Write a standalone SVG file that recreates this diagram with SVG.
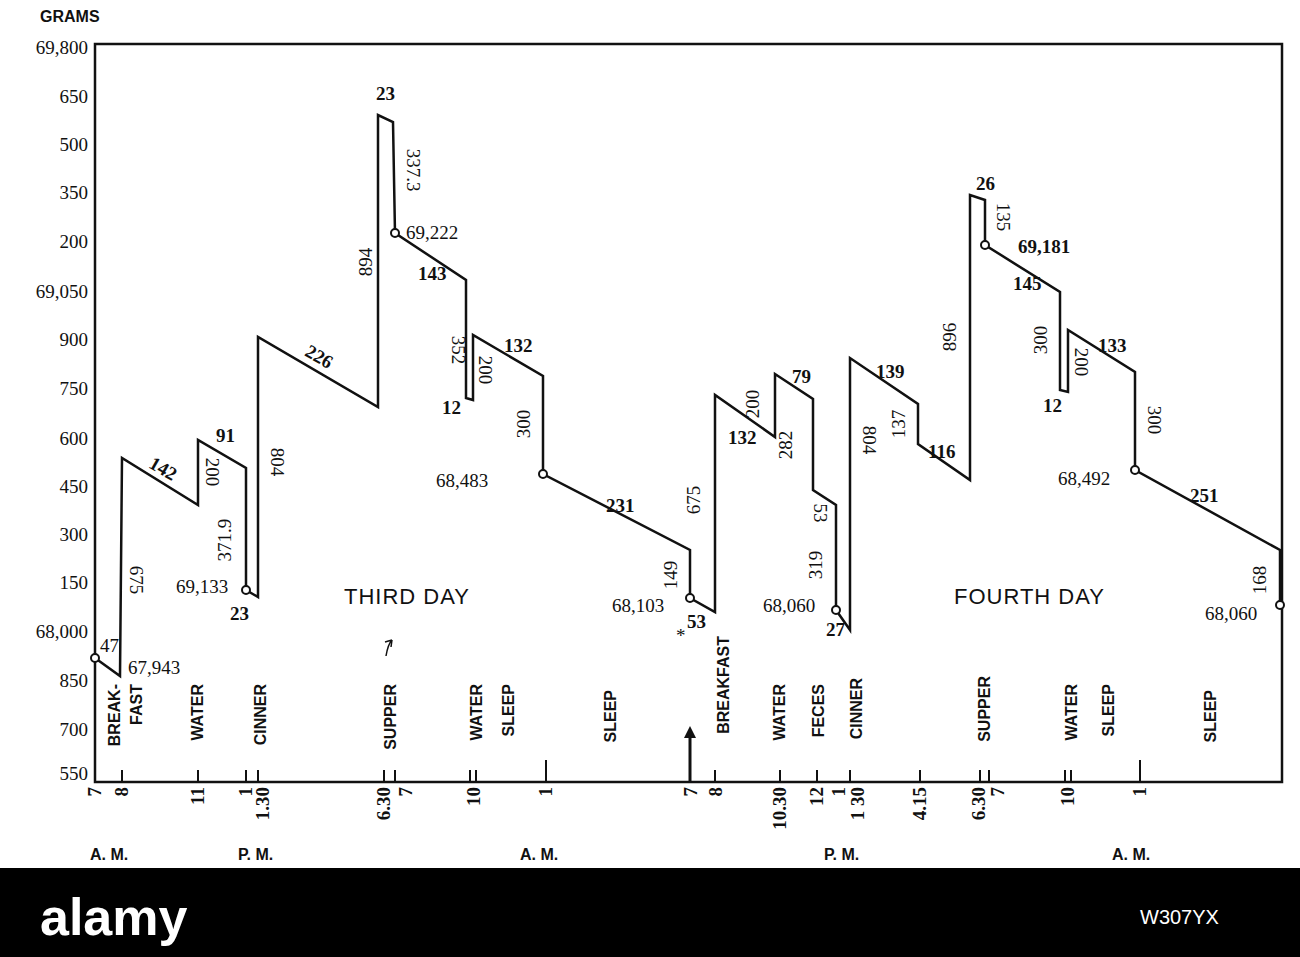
<svg xmlns="http://www.w3.org/2000/svg" width="1300" height="957" viewBox="0 0 1300 957">
<style>
.t{font-family:"Liberation Serif",serif;font-size:19px;fill:#111}
.s{font-family:"Liberation Sans",sans-serif;font-size:16px;fill:#111;font-weight:bold}
.b{font-family:"Liberation Serif",serif;font-size:19px;fill:#111;font-weight:bold}
.c{fill:#fff;stroke:#111;stroke-width:2}
</style>
<rect width="1300" height="957" fill="#fff"/>
<rect x="95" y="44" width="1187" height="738" fill="none" stroke="#111" stroke-width="2.5"/>
<g class="t" text-anchor="end">
<text x="88" y="54">69,800</text><text x="88" y="103">650</text><text x="88" y="151">500</text><text x="88" y="199">350</text><text x="88" y="248">200</text><text x="88" y="298">69,050</text><text x="88" y="346">900</text><text x="88" y="395">750</text><text x="88" y="445">600</text><text x="88" y="493">450</text><text x="88" y="541">300</text><text x="88" y="589">150</text><text x="88" y="638">68,000</text><text x="88" y="687">850</text><text x="88" y="736">700</text><text x="88" y="780">550</text>
</g>
<text x="40" y="22" class="s" font-size="13">GRAMS</text>
<g id="curve" fill="none" stroke="#111" stroke-width="2.5">
<polyline points="95,658 120,676 122,458 198,505 198,440 246,468 246,590 258,597 258,337 378,407 378,115 393,122 395,233 466,280 466,398 473,400 473,335 543,376 543,474 690,550 690,598 715,612 715,395 775,437 775,374 813,399 813,490 836,505 836,610 850,630 850,358 918,404 918,444 970,480 970,195 985,200 985,245 1060,292 1060,390 1068,392 1068,330 1135,372 1135,470 1280,550 1280,605"/>
</g>
<g id="points"><circle class="c" cx="95" cy="658" r="4"/><circle class="c" cx="246" cy="590" r="4"/><circle class="c" cx="395" cy="233" r="4"/><circle class="c" cx="543" cy="474" r="4"/><circle class="c" cx="690" cy="598" r="4"/><circle class="c" cx="836" cy="610" r="4"/><circle class="c" cx="985" cy="245" r="4"/><circle class="c" cx="1135" cy="470" r="4"/><circle class="c" cx="1280" cy="605" r="4"/></g>
<g class="t">
<text x="100" y="652">47</text><text x="128" y="674">67,943</text>
<text x="216" y="442" class="b">91</text><text x="176" y="593">69,133</text><text x="406" y="239">69,222</text>
<text x="436" y="487">68,483</text><text x="612" y="612">68,103</text><text x="763" y="612">68,060</text><text x="1018" y="253" class="b">69,181</text><text x="1058" y="485">68,492</text><text x="1205" y="620">68,060</text>
<text x="376" y="100" class="b">23</text><text x="418" y="280" class="b">143</text><text x="442" y="414" class="b">12</text>
<text x="504" y="352" class="b">132</text><text x="606" y="512" class="b">231</text><text x="728" y="444" class="b">132</text><text x="792" y="383" class="b">79</text>
<text x="876" y="378" class="b">139</text><text x="928" y="458" class="b">116</text><text x="976" y="190" class="b">26</text><text x="1013" y="290" class="b">145</text><text x="1043" y="412" class="b">12</text><text x="1098" y="352" class="b">133</text><text x="1190" y="502" class="b">251</text>
<text x="230" y="620" class="b">23</text><text x="687" y="628" class="b">53</text><text x="826" y="636" class="b">27</text>
</g>
<g class="b" text-anchor="middle"><text transform="translate(160,474) rotate(30)">142</text><text transform="translate(316,362) rotate(30)">226</text></g>
<g class="t" text-anchor="middle">
<text transform="translate(130,580) rotate(90)">675</text>
<text transform="translate(206,472) rotate(90)">200</text>
<text transform="translate(231,540) rotate(-90)">371.9</text>
<text transform="translate(271,462) rotate(90)">804</text>
<text transform="translate(372,262) rotate(-90)">894</text>
<text transform="translate(407,170) rotate(90)">337.3</text>
<text transform="translate(452,350) rotate(90)">352</text>
<text transform="translate(479,370) rotate(90)">200</text>
<text transform="translate(530,424) rotate(-90)">300</text>
<text transform="translate(677,575) rotate(-90)">149</text>
<text transform="translate(700,500) rotate(-90)">675</text>
<text transform="translate(759,404) rotate(-90)">200</text>
<text transform="translate(792,445) rotate(-90)">282</text>
<text transform="translate(814,513) rotate(90)">53</text>
<text transform="translate(822,565) rotate(-90)">319</text>
<text transform="translate(863,440) rotate(90)">804</text>
<text transform="translate(905,424) rotate(-90)">137</text>
<text transform="translate(956,337) rotate(-90)">896</text>
<text transform="translate(997,217) rotate(90)">135</text>
<text transform="translate(1047,340) rotate(-90)">300</text>
<text transform="translate(1075,362) rotate(90)">200</text>
<text transform="translate(1148,420) rotate(90)">300</text>
<text transform="translate(1266,580) rotate(-90)">168</text>
</g>
<g font-family="Liberation Sans,sans-serif" font-size="22" fill="#111" letter-spacing="1"><text x="344" y="604">THIRD DAY</text><text x="954" y="604">FOURTH DAY</text></g>
<path d="M386,656 Q388,644 392,640 M392,640 l-7,2 M392,640 l-1,7" fill="none" stroke="#111" stroke-width="1.5"/>
<path d="M690,782 V730" stroke="#111" stroke-width="3"/><path d="M684,738 L690,726 L696,738 Z" fill="#111"/>
<text x="676" y="642" class="t">*</text>
<g class="s" text-anchor="end">
<text transform="translate(120,684) rotate(-90)">BREAK-</text><text transform="translate(142,684) rotate(-90)">FAST</text>
<text transform="translate(203,684) rotate(-90)">WATER</text><text transform="translate(266,684) rotate(-90)">CINNER</text>
<text transform="translate(396,684) rotate(-90)">SUPPER</text><text transform="translate(482,684) rotate(-90)">WATER</text><text transform="translate(514,684) rotate(-90)">SLEEP</text><text transform="translate(616,690) rotate(-90)">SLEEP</text>
<text transform="translate(729,636) rotate(-90)">BREAKFAST</text><text transform="translate(785,684) rotate(-90)">WATER</text><text transform="translate(824,684) rotate(-90)">FECES</text><text transform="translate(862,678) rotate(-90)">CINNER</text>
<text transform="translate(990,676) rotate(-90)">SUPPER</text><text transform="translate(1077,684) rotate(-90)">WATER</text><text transform="translate(1114,684) rotate(-90)">SLEEP</text><text transform="translate(1216,690) rotate(-90)">SLEEP</text>
</g>
<g stroke="#111" stroke-width="2">
<path d="M122,770V782M198,770V782M246,770V782M258,770V782M384,770V782M395,770V782M470,770V782M476,770V782M546,760V782M715,770V782M780,770V782M817,770V782M850,770V782M920,770V782M980,770V782M989,770V782M1065,770V782M1071,770V782M1140,760V782"/>
</g>
<g class="b" text-anchor="end" font-size="17">
<text transform="translate(101,787) rotate(-90)">7</text><text transform="translate(128,787) rotate(-90)">8</text><text transform="translate(204,787) rotate(-90)">11</text><text transform="translate(252,787) rotate(-90)">1</text><text transform="translate(269,787) rotate(-90)">1.30</text>
<text transform="translate(390,787) rotate(-90)">6.30</text><text transform="translate(412,787) rotate(-90)">7</text><text transform="translate(480,787) rotate(-90)">10</text><text transform="translate(552,787) rotate(-90)">1</text>
<text transform="translate(697,787) rotate(-90)">7</text><text transform="translate(722,787) rotate(-90)">8</text><text transform="translate(786,787) rotate(-90)">10.30</text><text transform="translate(823,787) rotate(-90)">12</text><text transform="translate(845,787) rotate(-90)">1</text><text transform="translate(864,787) rotate(-90)">1 30</text>
<text transform="translate(926,787) rotate(-90)">4.15</text><text transform="translate(985,787) rotate(-90)">6.30</text><text transform="translate(1004,787) rotate(-90)">7</text><text transform="translate(1074,787) rotate(-90)">10</text><text transform="translate(1146,787) rotate(-90)">1</text>
</g>
<g class="s" font-size="14"><text x="90" y="860">A. M.</text><text x="238" y="860">P. M.</text><text x="520" y="860">A. M.</text><text x="824" y="860">P. M.</text><text x="1112" y="860">A. M.</text></g>
<rect x="0" y="868" width="1300" height="89" fill="#000"/>
<text x="40" y="935" font-family="Liberation Sans,sans-serif" font-size="52" font-weight="bold" fill="#fff">alamy</text>
<text x="1140" y="924" font-family="Liberation Sans,sans-serif" font-size="20" fill="#fff">W307YX</text>
</svg>
